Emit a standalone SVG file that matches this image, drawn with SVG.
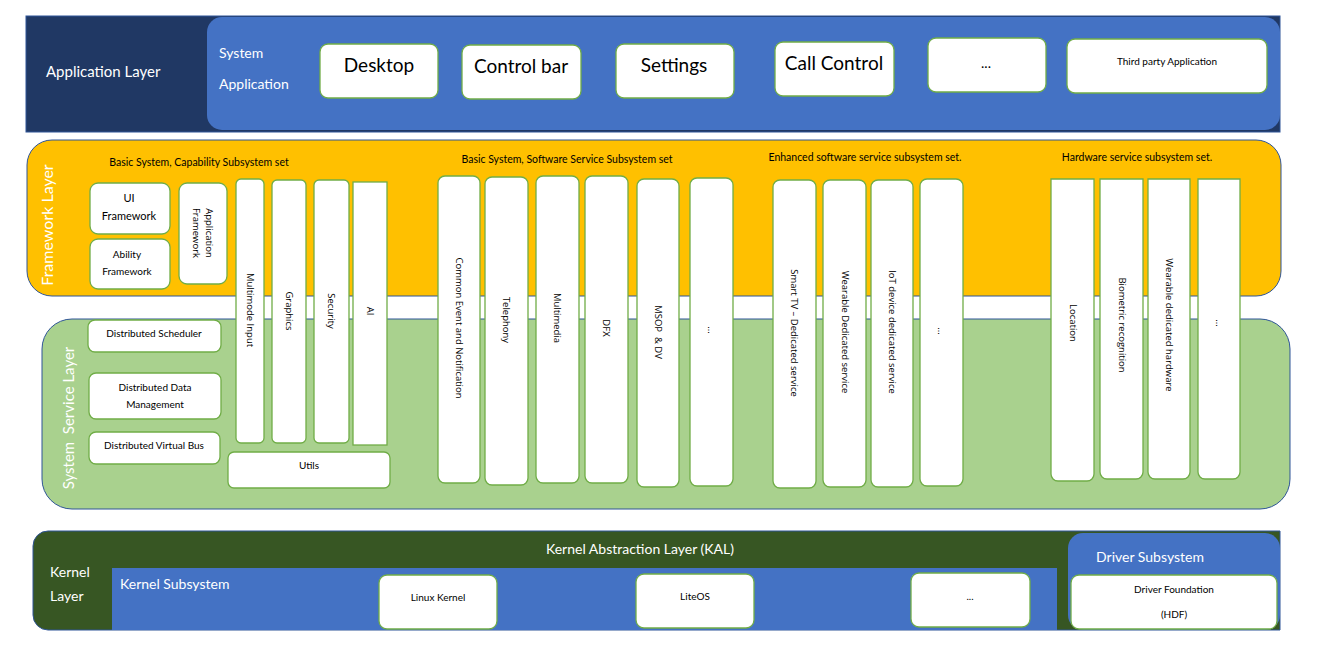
<svg xmlns="http://www.w3.org/2000/svg" width="1336" height="656" viewBox="0 0 1336 656">
<style>
.bx{fill:#fff;stroke:#70AD47;stroke-width:1.3}
.wt{fill:#fff;font-family:Lato,"Liberation Sans",sans-serif}
.bt{fill:#000;font-family:Lato,"Liberation Sans",sans-serif}
.vt{fill:#000;font-family:"Open Sans","DejaVu Sans",sans-serif;font-size:9.5px}
.c{text-anchor:middle}
</style>
<rect width="1336" height="656" fill="#fff"/>
<g id="application-layer">
<rect x="26" y="16" width="1254" height="116" fill="#203864" stroke="#2F5597" stroke-width="1"/>
<rect x="207" y="17" width="1073" height="113" rx="15" fill="#4472C4"/>
<text class="wt" x="46" y="77" font-size="15">Application Layer</text>
<text class="wt" x="219" y="58" font-size="14">System</text>
<text class="wt" x="219" y="89" font-size="14">Application</text>
</g>
<g id="desktop"><rect class="bx" x="320" y="44" width="118" height="54" rx="8"/><text class="bt c" x="379" y="72" font-size="19">Desktop</text></g>
<g id="control-bar"><rect class="bx" x="462" y="45" width="119" height="54" rx="8"/><text class="bt c" x="521" y="73" font-size="19">Control bar</text></g>
<g id="settings"><rect class="bx" x="616" y="44" width="118" height="54" rx="8"/><text class="bt c" x="674" y="72" font-size="19">Settings</text></g>
<g id="call-control"><rect class="bx" x="775" y="42" width="119" height="54" rx="8"/><text class="bt c" x="834" y="70" font-size="19">Call Control</text></g>
<g id="app-more"><rect class="bx" x="928" y="38" width="118" height="54" rx="8"/><text class="bt c" x="986" y="68" font-size="14">...</text></g>
<g id="third-party"><rect class="bx" x="1067" y="39" width="200" height="54" rx="8"/><text class="bt c" x="1167" y="65" font-size="10">Third party Application</text></g>

<g id="framework-layer">
<rect x="27" y="140" width="1254" height="156" rx="25" fill="#FFC000" stroke="#2F5597" stroke-width="1"/>
<text class="wt c" transform="translate(53,225) rotate(-90)" font-size="16">Framework Layer</text>
<text class="bt c" x="199" y="166" font-size="10.5">Basic System, Capability Subsystem set</text>
<text class="bt c" x="567" y="163" font-size="10.5">Basic System, Software Service Subsystem set</text>
<text class="bt c" x="865" y="161" font-size="10.5">Enhanced software service subsystem set.</text>
<text class="bt c" x="1137" y="161" font-size="10.5">Hardware service subsystem set.</text>
</g>
<g id="ui-framework"><rect class="bx" x="90" y="183" width="80" height="51" rx="8"/><text class="bt c" x="129" y="202" font-size="11">UI</text><text class="bt c" x="129" y="220" font-size="11">Framework</text></g>
<g id="ability-framework"><rect class="bx" x="90" y="239" width="80" height="50" rx="8"/><text class="bt c" x="127" y="258" font-size="10">Ability</text><text class="bt c" x="127" y="275" font-size="10">Framework</text></g>
<g id="application-framework"><rect class="bx" x="179" y="183" width="48" height="101" rx="8"/><text class="vt c" transform="translate(203,233) rotate(90)"><tspan x="0" y="-3">Application</tspan><tspan x="0" y="10">Framework</tspan></text></g>

<g id="service-layer">
<rect x="42" y="319" width="1248" height="190" rx="30" fill="#A9D18E" stroke="#2F5597" stroke-width="1"/>
<text class="wt c" transform="translate(74,418) rotate(-90)" font-size="15" style="white-space:pre">System  Service Layer</text>
</g>
<g id="distributed-scheduler"><rect class="bx" x="88" y="320" width="133" height="32" rx="7"/><text class="bt c" x="154" y="337" font-size="10">Distributed Scheduler</text></g>
<g id="distributed-data"><rect class="bx" x="89" y="373" width="132" height="46" rx="7"/><text class="bt c" x="155" y="391" font-size="10">Distributed Data</text><text class="bt c" x="155" y="408" font-size="10">Management</text></g>
<g id="distributed-bus"><rect class="bx" x="89" y="432" width="131" height="32" rx="7"/><text class="bt c" x="154" y="449" font-size="10">Distributed Virtual Bus</text></g>

<g id="multimode-input"><rect class="bx" x="236" y="179" width="28" height="264" rx="5"/><text class="vt c" transform="translate(250,310) rotate(90)" dy="3">Multimode Input</text></g>
<g id="graphics"><rect class="bx" x="272" y="180" width="34" height="263" rx="5"/><text class="vt c" transform="translate(289,311) rotate(90)" dy="3">Graphics</text></g>
<g id="security"><rect class="bx" x="314" y="180" width="35" height="263" rx="5"/><text class="vt c" transform="translate(331,311) rotate(90)" dy="3">Security</text></g>
<g id="ai"><rect class="bx" x="353" y="182" width="34" height="263"/><text class="vt c" transform="translate(370,311) rotate(90)" dy="3">AI</text></g>
<g id="utils"><rect class="bx" x="228" y="452" width="162" height="36" rx="6"/><text class="bt c" x="309" y="469" font-size="10">Utils</text></g>

<g id="common-event"><rect class="bx" x="438" y="176" width="42" height="307" rx="7"/><text class="vt c" transform="translate(459,328) rotate(90)" dy="3">Common Event and Notification</text></g>
<g id="telephony"><rect class="bx" x="485" y="177" width="43" height="308" rx="7"/><text class="vt c" transform="translate(506,320) rotate(90)" dy="3">Telephony</text></g>
<g id="multimedia"><rect class="bx" x="536" y="176" width="43" height="307" rx="7"/><text class="vt c" transform="translate(557,318) rotate(90)" dy="3">Multimedia</text></g>
<g id="dfx"><rect class="bx" x="585" y="176" width="43" height="307" rx="7"/><text class="vt c" transform="translate(606,328) rotate(90)" dy="3">DFX</text></g>
<g id="msop"><rect class="bx" x="637" y="179" width="42" height="308" rx="7"/><text class="vt c" transform="translate(658,332) rotate(90)" dy="3" style="white-space:pre">MSOP  &amp; DV</text></g>
<g id="software-more"><rect class="bx" x="690" y="178" width="43" height="308" rx="7"/><text class="vt c" transform="translate(711,330) rotate(90)" dy="3">...</text></g>

<g id="smart-tv"><rect class="bx" x="773" y="180" width="43" height="308" rx="7"/><text class="vt c" transform="translate(794,333) rotate(90)" dy="3">Smart TV – Dedicated service</text></g>
<g id="wearable-service"><rect class="bx" x="823" y="180" width="43" height="307" rx="7"/><text class="vt c" transform="translate(845,332) rotate(90)" dy="3">Wearable Dedicated service</text></g>
<g id="iot-service"><rect class="bx" x="871" y="180" width="42" height="307" rx="7"/><text class="vt c" transform="translate(892,332) rotate(90)" dy="3">IoT device dedicated service</text></g>
<g id="enhanced-more"><rect class="bx" x="920" y="179" width="43" height="307" rx="7"/><text class="vt c" transform="translate(941,331) rotate(90)" dy="3">...</text></g>

<g id="location"><path class="bx" d="M1051,179 H1094 V474 a7,7 0 0 1 -7,7 H1058 a7,7 0 0 1 -7,-7 Z"/><text class="vt c" transform="translate(1073,323) rotate(90)" dy="3">Location</text></g>
<g id="biometric"><path class="bx" d="M1100,179 H1143 V472 a7,7 0 0 1 -7,7 H1107 a7,7 0 0 1 -7,-7 Z"/><text class="vt c" transform="translate(1122,325) rotate(90)" dy="3">Biometric recognition</text></g>
<g id="wearable-hardware"><path class="bx" d="M1148,179 H1190 V472 a7,7 0 0 1 -7,7 H1155 a7,7 0 0 1 -7,-7 Z"/><text class="vt c" transform="translate(1169,325) rotate(90)" dy="3">Wearable dedicated hardware</text></g>
<g id="hardware-more"><path class="bx" d="M1198,179 H1240 V472 a7,7 0 0 1 -7,7 H1205 a7,7 0 0 1 -7,-7 Z"/><text class="vt c" transform="translate(1219,323) rotate(90)" dy="3">...</text></g>

<g id="kernel-layer">
<path d="M48,531 H1280 V630 H48 a15,15 0 0 1 -15,-15 V546 a15,15 0 0 1 15,-15 Z" fill="#375623" stroke="#2F5597" stroke-width="1"/>
<text class="wt" x="50" y="577" font-size="14">Kernel</text>
<text class="wt" x="50" y="601" font-size="14">Layer</text>
<text class="wt c" x="640" y="554" font-size="14">Kernel Abstraction Layer (KAL)</text>
</g>
<g id="kernel-subsystem">
<rect x="112" y="568" width="945" height="62" fill="#4472C4"/>
<text class="wt" x="120" y="589" font-size="14">Kernel Subsystem</text>
</g>
<g id="linux-kernel"><rect class="bx" x="379" y="575" width="118" height="54" rx="8"/><text class="bt c" x="438" y="601" font-size="10">Linux Kernel</text></g>
<g id="liteos"><rect class="bx" x="636" y="574" width="118" height="54" rx="8"/><text class="bt c" x="695" y="600" font-size="10">LiteOS</text></g>
<g id="kernel-more"><rect class="bx" x="911" y="573" width="119" height="54" rx="8"/><text class="bt c" x="970" y="600" font-size="10">...</text></g>
<g id="driver-subsystem">
<rect x="1068" y="533" width="212" height="97" rx="15" fill="#4472C4"/>
<text class="wt c" x="1150" y="562" font-size="14">Driver Subsystem</text>
</g>
<g id="driver-foundation"><rect class="bx" x="1071" y="575" width="206" height="54" rx="8"/><text class="bt c" x="1174" y="593" font-size="10">Driver Foundation</text><text class="bt c" x="1174" y="618" font-size="10">(HDF)</text></g>
<g id="connectors"></g>
</svg>
